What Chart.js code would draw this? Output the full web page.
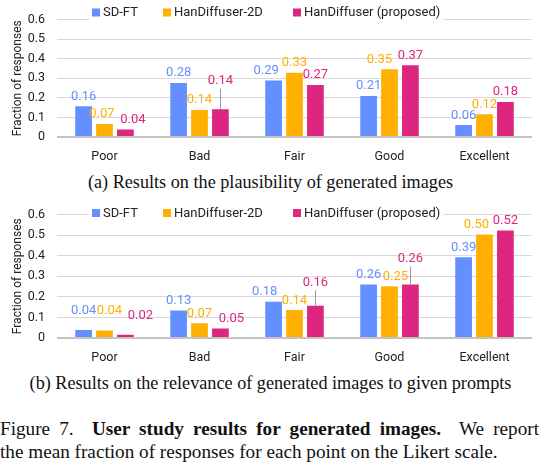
<!DOCTYPE html>
<html>
<head>
<meta charset="utf-8">
<script src="https://cdn.jsdelivr.net/npm/chart.js@4.4.1/dist/chart.umd.min.js"></script>
<style>
body{margin:0;background:#fff;width:541px;height:466px;overflow:hidden;position:relative;}
canvas{position:absolute;left:0;}
.cap{position:absolute;left:0;width:541px;text-align:center;font-family:'Liberation Serif','Times New Roman',serif;font-size:18.2px;line-height:20px;color:#111;white-space:nowrap;}
.fig{position:absolute;left:0;width:539px;font-family:'Liberation Serif','Times New Roman',serif;font-size:19.2px;line-height:22.5px;color:#111;white-space:nowrap;}
.fig .l1{text-align:justify;text-align-last:justify;}
</style>
</head>
<body>

<canvas id="plausChart" width="541" height="166" style="top:0px"></canvas>
<div class="cap" style="top:172px">(a) Results on the plausibility of generated images</div>

<canvas id="relevChart" width="541" height="170" style="top:195px"></canvas>
<div class="cap" style="top:373px">(b) Results on the relevance of generated images to given prompts</div>

<div class="fig" style="top:418px">
<div class="l1">Figure 7.&nbsp; <b>User study results for generated images.</b>&nbsp; We report</div>
<div>the mean fraction of responses for each point on the Likert scale.</div>
</div>

<script>

const categories = ['Poor','Bad','Fair','Good','Excellent'];
const seriesNames = ['SD-FT','HanDiffuser-2D','HanDiffuser (proposed)'];
const seriesColors = ['#648FFF','#FFB000','#DC267F'];
const yTickLabels = ['0','0.1','0.2','0.3','0.4','0.5','0.6'];

// (a) plausibility
const plausSdft = [0.157, 0.276, 0.288, 0.21, 0.061];
const plaus2d   = [0.067, 0.138, 0.328, 0.346, 0.116];
const plausHd   = [0.038, 0.142, 0.266, 0.367, 0.179];

// (b) relevance
const relevSdft = [0.039, 0.133, 0.176, 0.26, 0.392];
const relev2d   = [0.036, 0.072, 0.136, 0.252, 0.503];
const relevHd   = [0.016, 0.046, 0.157, 0.26, 0.522];

// label shifts where the value labels would collide
const plausNudges = [
{cat:0, ds:1, dx:-2.5, dy:0},
{cat:0, ds:2, dx:7.5, dy:0},
{cat:1, ds:2, dx:0, dy:-18.5, leader:true},
{cat:2, ds:0, dx:-7.5, dy:0},
{cat:3, ds:1, dx:-10, dy:0}
];

const relevNudges = [
{cat:0, ds:0, dx:0, dy:-9.5},
{cat:0, ds:1, dx:5, dy:-10},
{cat:0, ds:2, dx:15, dy:-9.5},
{cat:1, ds:2, dx:11, dy:0},
{cat:2, ds:0, dx:-9, dy:0},
{cat:2, ds:2, dx:0, dy:-13.5, leader:true},
{cat:3, ds:1, dx:6, dy:0},
{cat:3, ds:2, dx:0, dy:-16, leader:true},
{cat:4, ds:1, dx:-8, dy:0}
];

const barLabels = {
id:'barLabels',
afterDatasetsDraw(chart, args, opts){
const ctx = chart.ctx;
ctx.save();
ctx.font = '13px Roboto';
ctx.textAlign = 'center';
ctx.textBaseline = 'alphabetic';
chart.data.datasets.forEach((ds, di)=>{
chart.getDatasetMeta(di).data.forEach((bar, ci)=>{
const n = (opts.nudges||[]).find(k=>k.cat===ci && k.ds===di) || {};
const ty = bar.y - 6.5 + (n.dy||0);
if(n.leader){
const lx = Math.round(bar.x) + 0.5;
ctx.strokeStyle = '#9a9a9a';
ctx.lineWidth = 1;
ctx.beginPath();
ctx.moveTo(lx, bar.y);
ctx.lineTo(lx, ty + 4.5);
ctx.stroke();
}
ctx.fillStyle = ds.backgroundColor;
ctx.fillText(ds.data[ci].toFixed(2), bar.x + (n.dx||0), ty);
});
});
ctx.restore();
}
};

const topLegend = {
id:'topLegend',
afterDraw(chart, args, opts){
const ctx = chart.ctx;
const xs = opts.x;
const y = opts.y;
ctx.save();
ctx.font = '13px Roboto';
ctx.textBaseline = 'middle';
const lastW = ctx.measureText(seriesNames[seriesNames.length-1]).width;
ctx.fillStyle = '#fff';
ctx.fillRect(xs[0]-3, y-8, xs[xs.length-1]+11+lastW+3-(xs[0]-3), 16);
seriesNames.forEach((name, i)=>{
ctx.fillStyle = seriesColors[i];
ctx.fillRect(xs[i], y-4, 8, 8);
ctx.fillStyle = '#222';
ctx.fillText(name, xs[i]+11, y+0.5);
});
// y axis title
const a = chart.chartArea;
ctx.translate(18, (a.top+a.bottom)/2);
ctx.rotate(-Math.PI/2);
ctx.textAlign = 'center';
ctx.font = '12px Roboto';
ctx.fillText('Fraction of responses', 0, 0);
ctx.restore();
}
};

function makeChart(id, sdft, d2, hd, nudges, padTop, xHeight, legendY){

return new Chart(document.getElementById(id),{
type:'bar',
data:{
labels:categories,
datasets:[sdft, d2, hd].map((vals, i)=>({
label:seriesNames[i],
data:vals,
backgroundColor:seriesColors[i],
borderWidth:0,
categoryPercentage:0.66,
barPercentage:0.8
}))
},
options:{
responsive:false,
animation:false,
layout:{padding:{top:padTop, right:9, left:0, bottom:0}},
plugins:{
legend:{display:false},
tooltip:{enabled:false},
barLabels:{nudges:nudges},
topLegend:{x:[92,163,293], y:legendY}
},
scales:{
x:{
grid:{display:false},
border:{display:false},
ticks:{color:'#222', font:{family:'Roboto', size:12.5}, padding:4},
afterFit(s){ s.height = xHeight; }
},
y:{
min:0, max:0.6,
border:{display:false},
grid:{
drawTicks:false,
color:c=>c.tick && c.tick.value===0 ? '#c4c4c4' : '#d9d9d9',
lineWidth:c=>c.tick && c.tick.value===0 ? 2 : 1
},
ticks:{
stepSize:0.1,
padding:12,
color:'#222',
font:{family:'Roboto', size:12.5},
callback:(v, i)=>yTickLabels[i]
},
afterFit(s){ s.width = 57; }
}
}
},
plugins:[barLabels, topLegend]
});

}

makeChart('plausChart', plausSdft, plaus2d, plausHd, plausNudges, 8, 29, 12.5);
makeChart('relevChart', relevSdft, relev2d, relevHd, relevNudges, 15, 27, 18);

</script>
</body>
</html>
